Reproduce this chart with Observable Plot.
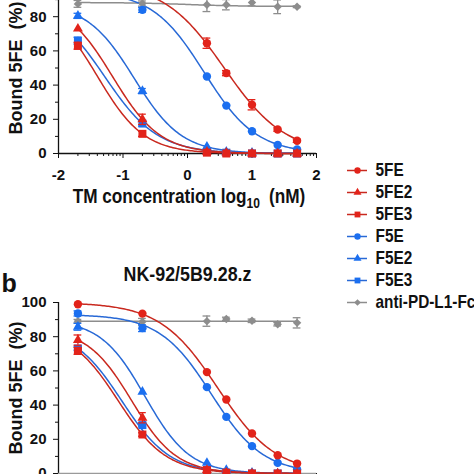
<!DOCTYPE html>
<html>
<head>
<meta charset="utf-8">
<script src="https://cdn.jsdelivr.net/npm/d3@7"></script>
<script src="https://cdn.jsdelivr.net/npm/@observablehq/plot@0.6"></script>
<style>
  html, body { margin: 0; padding: 0; background: #fff; }
  #root { position: relative; width: 474px; height: 474px; overflow: hidden; background: #fff; }
  #root > * { position: absolute; }
</style>
</head>
<body>
<div id="root"></div>
<script>
// ---------- data ----------
const names = ["5FE", "5FE2", "5FE3", "F5E", "F5E2", "F5E3", "anti-PD-L1-Fc"];
const concentrations = [0.02, 0.2, 2, 4, 10, 25, 50]; // nM
const xTicks = [-2, -1, 0, 1, 2];
const yTicks = [0, 20, 40, 60, 80, 100];
const yMinorTicks = [10, 30, 50, 70, 90];

// Panel a (top) mean values, %
const a5FE   = [99, 97, 64.5, 47, 28.5, 14, 7.5];
const a5FE2  = [73, 20, 1, 0.5, 0, 0, 0];
const a5FE3  = [63, 11.5, 0.5, 0, 0, 0, 0];
const aF5E   = [94, 84, 45, 28, 13, 5, 2.3];
const aF5E2  = [80.5, 36.5, 4, 1, 0.5, 0, 0];
const aF5E3  = [66, 17.5, 1, 0.5, 0, 0, 0];
const aAnti  = [87.5, 87.7, 87, 87, 88.3, 85.8, 85.8];
// Panel a error (SD)
const a5FEe  = [0, 0, 3, 1.5, 3, 1, 1];
const a5FE2e = [0, 3, 0, 0, 0, 0, 0];
const a5FE3e = [2, 1.5, 0, 0, 0, 0, 0];
const aF5Ee  = [0, 1.5, 0, 0, 0, 0, 0];
const aF5E2e = [1.5, 1.5, 0, 0, 0, 0, 0];
const aF5E3e = [2, 1.5, 0, 0, 0, 0, 0];
const aAntie = [2, 1.5, 4, 3, 2, 4, 0.5];
// Panel a fitted curves: [top, bottom, logIC50, hill]
const a5FEfit  = [100, 0, 0.569, 0.928];
const a5FE2fit = [90, 0, -1.162, 1.177];
const a5FE3fit = [90, 0, -1.394, 1.202];
const aF5Efit  = [95, 0, 0.258, 1.077];
const aF5E2fit = [88, 0, -0.827, 1.18];
const aF5E3fit = [90, 0, -1.284, 1.056];
const aAntifit = [88.3, 86, 0, 1];

// Panel b (NK-92/5B9.28.z)
const b5FE   = [99, 93.5, 59.3, 43.3, 23.4, 10.7, 5.8];
const b5FE2  = [78, 32.6, 2, 0.5, 0, 0, 0];
const b5FE3  = [71.7, 22.8, 2, 0.5, 0, 0, 0];
const bF5E   = [93.6, 85, 50.5, 33.1, 16, 6.2, 2.3];
const bF5E2  = [85.8, 47.8, 6.2, 2, 0.5, 0, 0];
const bF5E3  = [73.1, 28.3, 2, 0.5, 0, 0, 0];
const bAnti  = [89.1, 88.7, 89.1, 90.4, 89.3, 87.3, 88.1];
const b5FEe  = [0, 0, 0, 0, 0, 0, 0];
const b5FE2e = [3, 3, 0, 0, 0, 0, 0];
const b5FE3e = [2, 1, 0, 0, 0, 0, 0];
const bF5Ee  = [1.5, 2, 0, 0, 0, 0, 0];
const bF5E2e = [2, 0, 0, 0, 0, 0, 0];
const bF5E3e = [1, 1, 0, 0, 0, 0, 0];
const bAntie = [1, 2, 3, 1, 1, 1, 3];
const b5FEfit  = [100, 0, 0.469, 0.970];
const b5FE2fit = [85, 0, -0.864, 1.253];
const b5FE3fit = [85, 0, -1.073, 1.168];
const bF5Efit  = [93, 0, 0.369, 1.082];
const bF5E2fit = [90, 0, -0.657, 1.256];
const bF5E3fit = [85, 0, -1.019, 1.157];
const bAntifit = [89, 89, 0, 1];

// axis label pieces
const xLabelMain = "TM concentration log";
const xLabelSub = "10";
const xLabelUnit = "(nM)";
const yLabel = "Bound 5FE\u00A0 (%)";
const titleB = "NK-92/5B9.28.z";

// ---------- styling ----------
const FONT = "'Liberation Sans',Arial,sans-serif";
const RED = "#e2231a", RED_LINE = "#c9291f";
const BLUE = "#1b6ff0", BLUE_LINE = "#2869d6";
const GRAY = "#8d8d8d";
const markerColor = {"5FE": RED, "5FE2": RED, "5FE3": RED, "F5E": BLUE, "F5E2": BLUE, "F5E3": BLUE, "anti-PD-L1-Fc": GRAY};
const lineColor = {"5FE": RED_LINE, "5FE2": RED_LINE, "5FE3": RED_LINE, "F5E": BLUE_LINE, "F5E2": BLUE_LINE, "F5E3": BLUE_LINE, "anti-PD-L1-Fc": GRAY};
const symbolOf = {"5FE": "circle", "5FE2": "triangle", "5FE3": "square", "F5E": "circle", "F5E2": "triangle", "F5E3": "square", "anti-PD-L1-Fc": "diamond2"};
const radiusOf = {circle: 4.2, triangle: 3.7, square: 4.5, diamond2: 3.8};

const xMinor = [];
for (let d = -2; d < 2; d++) for (let k = 2; k <= 9; k++) xMinor.push(d + Math.log10(k));

function fourPL(p, x) { return p[1] + (p[0] - p[1]) / (1 + Math.pow(10, (x - p[2]) * p[3])); }

// horizontally condense a text (the reference uses a narrow face); returns new width
function condense(el, factor) {
  const L = el.getComputedTextLength();
  if (L > 0) {
    el.setAttribute("textLength", (L * factor).toFixed(2));
    el.setAttribute("lengthAdjust", "spacingAndGlyphs");
  }
  return L * factor;
}

function buildPanel(vals, errs, fits, opts) {
  const logx = concentrations.map(Math.log10);
  const xmin = d3.min(logx), xmax = d3.max(logx);
  const marks = [];
  marks.push(Plot.axisY({ticks: yTicks, tickSize: 5, tickPadding: 7, fontSize: 15, label: null, tickFormat: d => String(d)}));
  marks.push(Plot.axisY({ticks: yMinorTicks, tickSize: 3, tickFormat: () => "", label: null}));
  marks.push(Plot.axisX({ticks: xTicks, tickSize: 5, tickPadding: 11, fontSize: 15, label: null, tickFormat: d => String(d)}));
  marks.push(Plot.axisX({ticks: xMinor, tickSize: 3, tickFormat: () => "", label: null}));
  marks.push(Plot.ruleX([-2], {stroke: "#111", strokeWidth: 1.3}));
  marks.push(Plot.ruleY([0], {stroke: opts.xAxisColor || "#111", strokeWidth: 1.3}));
  const order = ["anti-PD-L1-Fc", "F5E", "F5E2", "F5E3", "5FE", "5FE2", "5FE3"];
  for (const n of order) {
    const xs = d3.range(xmin, xmax + 1e-9, (xmax - xmin) / 150);
    marks.push(Plot.line(xs, {x: d => d, y: d => fourPL(fits[n], d), stroke: lineColor[n], strokeWidth: 1.5}));
  }
  for (const n of order) {
    const pts = logx.map((x, i) => ({x, y: vals[n][i], e: errs[n][i]}));
    const withErr = pts.filter(p => p.e > 0);
    marks.push(Plot.ruleX(withErr, {x: "x", y1: d => d.y - d.e, y2: d => d.y + d.e, stroke: markerColor[n], strokeWidth: 1.3}));
    marks.push(Plot.ruleY(withErr, {y: d => d.y + d.e, x1: d => d.x - 0.06, x2: d => d.x + 0.06, stroke: markerColor[n], strokeWidth: 1.3}));
    marks.push(Plot.ruleY(withErr, {y: d => d.y - d.e, x1: d => d.x - 0.06, x2: d => d.x + 0.06, stroke: markerColor[n], strokeWidth: 1.3}));
    const s = symbolOf[n];
    marks.push(Plot.dot(pts, {x: "x", y: "y", symbol: s, r: radiusOf[s], fill: markerColor[n], stroke: "none"}));
  }
  marks.push(Plot.text([yLabel], {frameAnchor: "left", rotate: -90, dx: -42, textAnchor: "middle", lineAnchor: "middle", fontSize: 18, fontWeight: "bold"}));
  if (opts.title) {
    marks.push(Plot.text([opts.title], {frameAnchor: "top", dy: -28, textAnchor: "middle", lineAnchor: "middle", fontSize: 21, fontWeight: "bold"}));
  }
  if (opts.letter) {
    marks.push(Plot.text([opts.letter], {frameAnchor: "top-left", dx: -57, dy: -19, textAnchor: "start", lineAnchor: "middle", fontSize: 25, fontWeight: "bold"}));
  }
  return Plot.plot({
    width: 330, height: opts.height,
    marginLeft: 58, marginRight: 14, marginTop: opts.marginTop, marginBottom: opts.marginBottom,
    x: {domain: [-2, 2]},
    y: {domain: [0, 100]},
    style: {fontFamily: FONT, fontWeight: "bold", fontSize: "15px", color: "#111", background: "transparent", overflow: "visible"},
    marks
  });
}

const root = document.getElementById("root");

const valsA = {"5FE": a5FE, "5FE2": a5FE2, "5FE3": a5FE3, "F5E": aF5E, "F5E2": aF5E2, "F5E3": aF5E3, "anti-PD-L1-Fc": aAnti};
const errsA = {"5FE": a5FEe, "5FE2": a5FE2e, "5FE3": a5FE3e, "F5E": aF5Ee, "F5E2": aF5E2e, "F5E3": aF5E3e, "anti-PD-L1-Fc": aAntie};
const fitsA = {"5FE": a5FEfit, "5FE2": a5FE2fit, "5FE3": a5FE3fit, "F5E": aF5Efit, "F5E2": aF5E2fit, "F5E3": aF5E3fit, "anti-PD-L1-Fc": aAntifit};
const valsB = {"5FE": b5FE, "5FE2": b5FE2, "5FE3": b5FE3, "F5E": bF5E, "F5E2": bF5E2, "F5E3": bF5E3, "anti-PD-L1-Fc": bAnti};
const errsB = {"5FE": b5FEe, "5FE2": b5FE2e, "5FE3": b5FE3e, "F5E": bF5Ee, "F5E2": bF5E2e, "F5E3": bF5E3e, "anti-PD-L1-Fc": bAntie};
const fitsB = {"5FE": b5FEfit, "5FE2": b5FE2fit, "5FE3": b5FE3fit, "F5E": bF5Efit, "F5E2": bF5E2fit, "F5E3": bF5E3fit, "anti-PD-L1-Fc": bAntifit};

const plotA = buildPanel(valsA, errsA, fitsA, {height: 248, marginTop: 22, marginBottom: 55});
plotA.style.left = "0px"; plotA.style.top = "-40px";
root.appendChild(plotA);

// x axis label, built from three separate texts so the subscript sits right
{
  const g = d3.select(plotA).append("g").attr("font-weight", "bold").attr("fill", "#111").attr("text-anchor", "start");
  const baseY = 243, centerX = 189, gap1 = 0, gap2 = 9;
  const e1 = g.append("text").attr("y", baseY).attr("font-size", 20).attr("text-anchor", "start").text(xLabelMain).node();
  const e2 = g.append("text").attr("y", baseY + 5).attr("font-size", 14).attr("text-anchor", "start").text(xLabelSub).node();
  const e3 = g.append("text").attr("y", baseY).attr("font-size", 20).attr("text-anchor", "start").text(xLabelUnit).node();
  const w1 = condense(e1, 0.86), w2 = condense(e2, 0.86), w3 = condense(e3, 0.86);
  const total = w1 + gap1 + w2 + gap2 + w3;
  let x = centerX - total / 2;
  e1.setAttribute("x", x.toFixed(2)); x += w1 + gap1;
  e2.setAttribute("x", x.toFixed(2)); x += w2 + gap2;
  e3.setAttribute("x", x.toFixed(2));
}

const plotB = buildPanel(valsB, errsB, fitsB, {height: 273, marginTop: 62, marginBottom: 40, title: titleB, letter: "b", xAxisColor: "#9a9a9a"});
plotB.style.left = "0px"; plotB.style.top = "240px";
root.appendChild(plotB);
d3.select(plotB).selectAll("text").filter(function() { return this.textContent === titleB; })
  .each(function() { condense(this, 0.85); });

// legend
const legend = Plot.plot({
  width: 134, height: 200, margin: 0,
  x: {domain: [0, 1], range: [7, 27], axis: null},
  y: {type: "point", domain: names, range: [18, 173], axis: null},
  color: {type: "identity"},
  symbol: {type: "identity"},
  style: {fontFamily: FONT, fontWeight: "bold", fontSize: "18px", color: "#111", background: "transparent", overflow: "visible"},
  marks: [
    Plot.ruleY(names, {y: d => d, x1: 0, x2: 1, stroke: d => lineColor[d], strokeWidth: 1.5}),
    Plot.dot(names, {x: 0.5, y: d => d, symbol: d => symbolOf[d], r: d => radiusOf[symbolOf[d]], fill: d => markerColor[d], stroke: "none"}),
    Plot.text(names, {x: 1, dx: 8, y: d => d, text: d => d, textAnchor: "start", lineAnchor: "middle", fontSize: 18.5, fontWeight: "bold", fill: "#111"})
  ]
});
legend.style.left = "340px"; legend.style.top = "140px";
root.appendChild(legend);
d3.select(legend).selectAll("text").each(function() { condense(this, 0.83); });
</script>
</body>
</html>
